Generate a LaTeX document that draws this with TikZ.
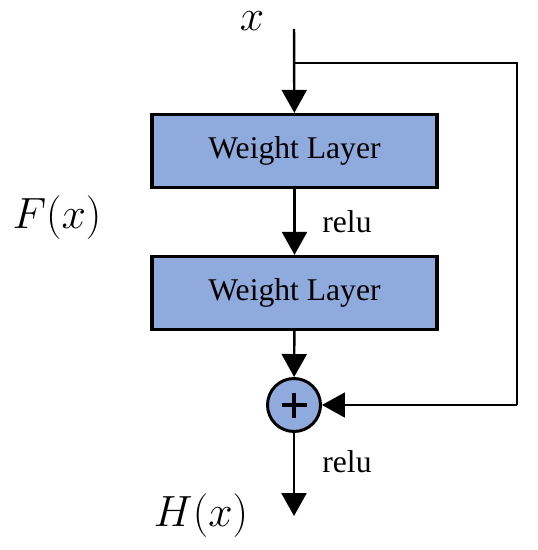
\documentclass[tikz,border=0pt]{standalone}
\usepackage{amsmath}
\usepackage{fontspec}
\setmainfont{Liberation Serif}
\usepackage{tikz}
\usetikzlibrary{arrows.meta}
\definecolor{layerblue}{RGB}{143,170,220}

\begin{document}
\begin{tikzpicture}[x=0.02cm, y=-0.02cm]
	\tikzstyle{layer} = [rectangle, draw, line width=1.9pt, fill=layerblue, minimum width=5.7cm, minimum height=1.46cm, inner sep=0pt, font=\fontsize{18}{20}\selectfont]
	\tikzstyle{adder} = [circle, draw, line width=1.7pt, fill=layerblue, minimum size=1.06cm, inner sep=0pt, path picture={\draw[line width=2.3pt] ([xshift=-0.25cm]path picture bounding box.center) -- ([xshift=0.25cm]path picture bounding box.center); \draw[line width=2.3pt] ([yshift=-0.25cm]path picture bounding box.center) -- ([yshift=0.25cm]path picture bounding box.center);}]
	\tikzstyle{flow} = [line width=1.4pt, -{Triangle[length=0.46cm, width=0.5cm]}]
	\tikzstyle{skip} = [line width=1.1pt]
	\tikzstyle{lbl} = [inner sep=0pt, font=\fontsize{18}{20}\selectfont]
	\tikzstyle{mathlbl} = [inner sep=0pt, font=\fontsize{24}{26}\selectfont]
	\useasboundingbox (0,0) rectangle (537,550);
	\coordinate (in) at (294, 29);
	\coordinate (split) at (294, 63);
	\coordinate (skipR) at (517, 63);
	\coordinate (skipB) at (517, 405);
	\coordinate (out) at (294, 516);
	\node[layer] (wl1) at (294.5, 151) {Weight Layer};
	\node[layer] (wl2) at (294.5, 293) {Weight Layer};
	\node[adder] (add) at (294, 405) {};
	\node[mathlbl] (xin) at (252, 21) {$x$};
	\node[mathlbl] (Fx) at (57, 218) {$F(x)$};
	\node[mathlbl] (Hx) at (201, 516) {$H(x)$};
	\node[lbl] (relu1) at (347, 222) {relu};
	\node[lbl] (relu2) at (347, 462) {relu};
	\draw [flow] (in)--(wl1);
	\draw [flow] (wl1)--(wl2);
	\draw [flow] (wl2)--(add);
	\draw [flow] (add)--(out);
	\draw [skip] (split)--(skipR)--(skipB);
	\draw [skip, -{Triangle[length=0.46cm, width=0.5cm]}] (skipB)--(add);
\end{tikzpicture}
\end{document}
